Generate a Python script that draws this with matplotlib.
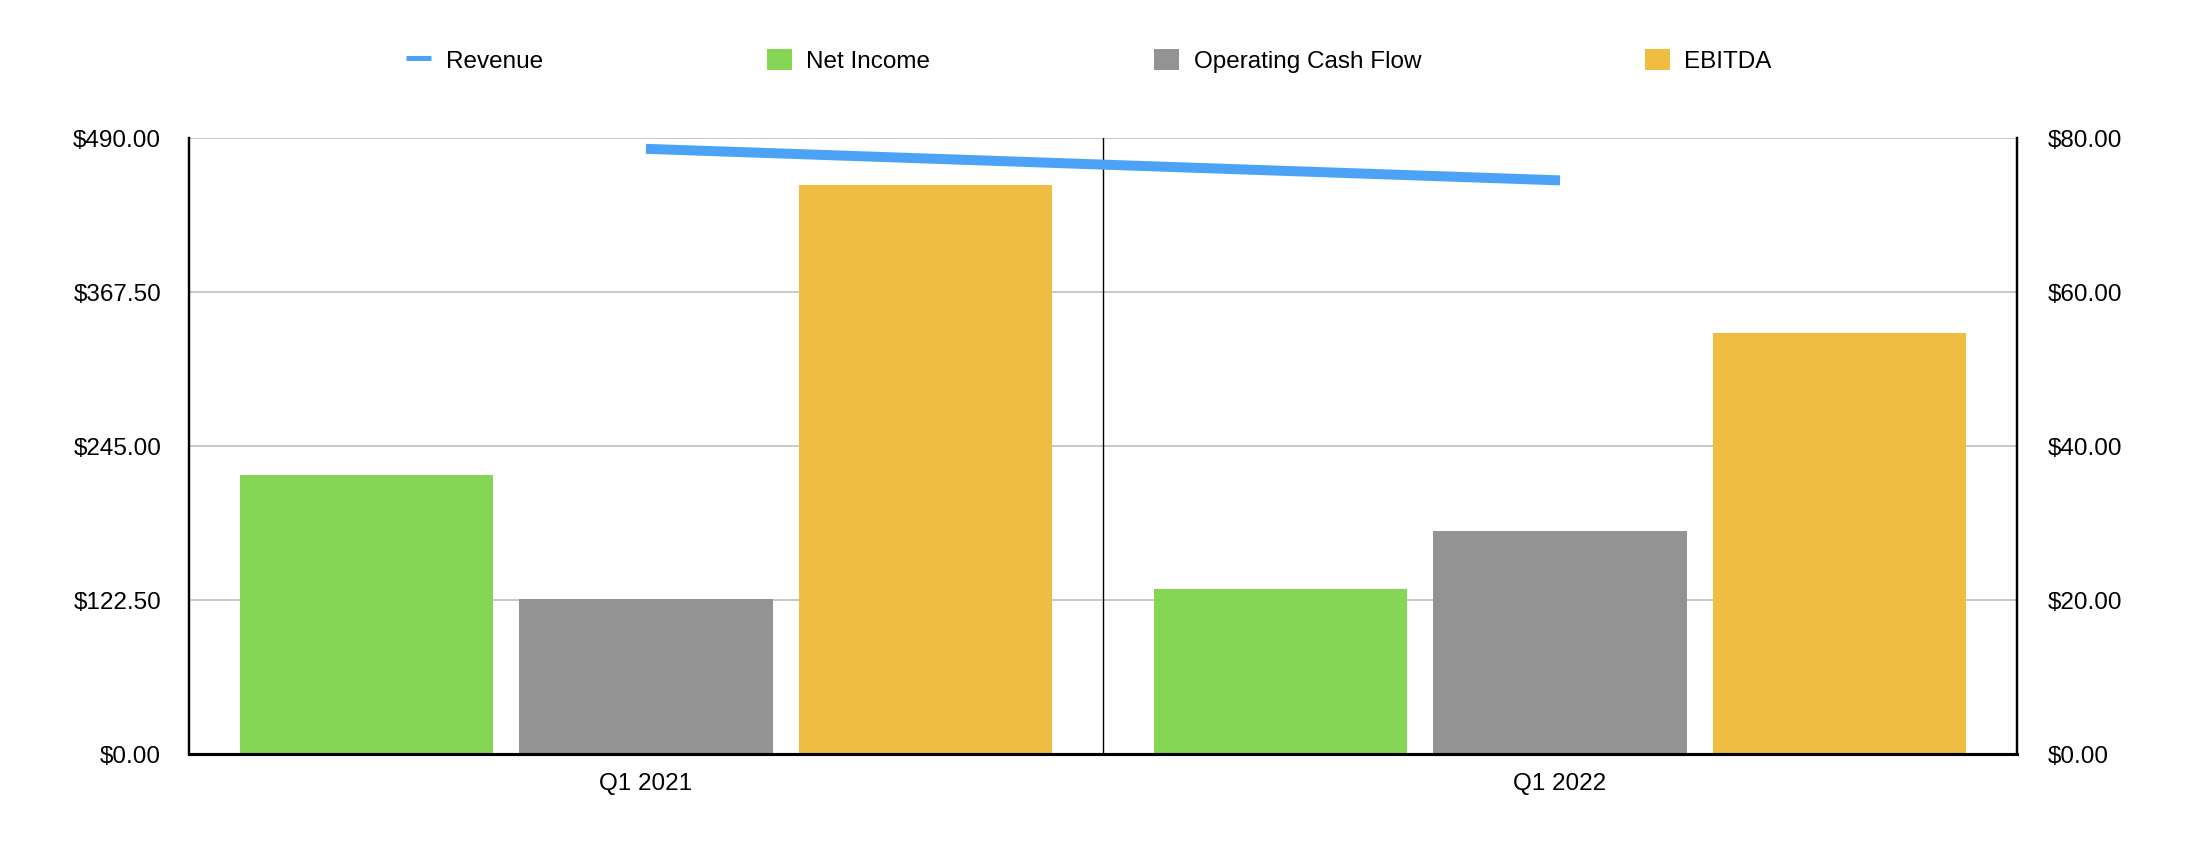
import matplotlib.pyplot as plt
import numpy as np
from matplotlib.lines import Line2D
from matplotlib.patches import Patch

plt.rcParams['font.family'] = ['Liberation Sans', 'DejaVu Sans']

quarters = ["Q1 2021", "Q1 2022"]
net_income = [222.0, 131.3]
operating_cash_flow = [123.3, 177.4]
ebitda = [452.6, 334.9]
revenue = [78.6, 74.5]  # right axis

left_ticks = [0, 122.5, 245, 367.5, 490]
right_ticks = [0, 20, 40, 60, 80]

GREEN = "#84d654"
GRAY = "#939393"
ORANGE = "#eebd41"
BLUE = "#4ba2f7"
FS = 17.5

fig = plt.figure(figsize=(21.92, 8.66), dpi=100)
ax = fig.add_axes([0.0862, 0.1293, 0.834, 0.7113])

x = np.arange(len(quarters))
w = 0.277
off = 0.306
ax.bar(x - off, net_income, w, color=GREEN, zorder=2)
ax.bar(x, operating_cash_flow, w, color=GRAY, zorder=2)
ax.bar(x + off, ebitda, w, color=ORANGE, zorder=2)

ax.set_xlim(-0.5, 1.5)
ax.set_ylim(0, 490)
ax.set_yticks(left_ticks)
ax.set_yticklabels([f"${v:,.2f}" for v in left_ticks])
ax.set_xticks(x)
ax.set_xticklabels(quarters)
ax.grid(axis="y", color="#b9b9b9", linewidth=1.1, zorder=0)
ax.axvline(0.5, color="black", linewidth=1.0, zorder=3)
ax.tick_params(axis="y", length=0, pad=20, labelsize=FS)
ax.tick_params(axis="x", length=0, pad=14, labelsize=FS)

ax2 = ax.twinx()
ax2.plot(x, revenue, color=BLUE, linewidth=7.2, solid_capstyle="butt", zorder=4)
ax2.set_ylim(0, 80)
ax2.set_yticks(right_ticks)
ax2.set_yticklabels([f"${v:.2f}" for v in right_ticks])
ax2.tick_params(axis="y", length=0, pad=22, labelsize=FS)

for a in (ax, ax2):
    a.spines["top"].set_visible(False)
    a.spines["left"].set_linewidth(1.6)
    a.spines["right"].set_linewidth(1.6)
    a.spines["bottom"].set_linewidth(2.2)

handles = [
    Line2D([0], [0], color=BLUE, linewidth=3.6, solid_capstyle="butt"),
    Patch(facecolor=GREEN),
    Patch(facecolor=GRAY),
    Patch(facecolor=ORANGE),
]
labels = ["Revenue", "Net Income", "Operating Cash Flow", "EBITDA"]
fig.legend(handles, labels, loc="center", bbox_to_anchor=(0.4968, 0.9296),
           ncol=4, frameon=False, fontsize=FS, handlelength=1.03,
           handleheight=0.95, handletextpad=0.6, columnspacing=9.2)

fig.savefig("out.png", dpi=100)
